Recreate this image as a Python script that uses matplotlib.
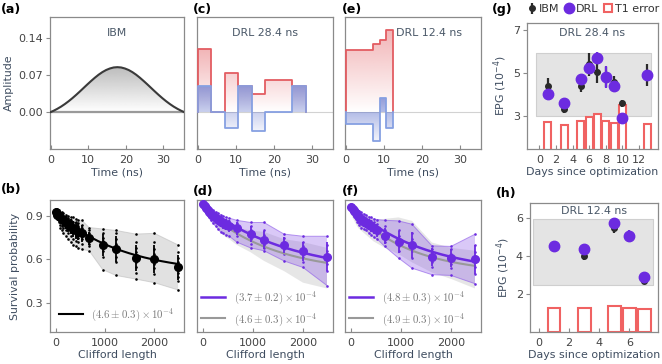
import numpy as np
import matplotlib
matplotlib.use("Agg")
import matplotlib.pyplot as plt
from matplotlib.patches import Polygon, Patch
from matplotlib.colors import to_rgb

plt.rcParams['font.family'] = ['DejaVu Sans']
plt.rcParams['mathtext.fontset'] = 'cm'

# ---------------- data ----------------
# (a) IBM pulse
pulse_t = [0, 0.75, 1.75, 2.75, 3.75, 4.75, 5.75, 6.75, 7.75, 8.75, 9.75, 10.75, 11.75,
           12.75, 13.75, 14.75, 15.75, 16.75, 17.75, 18.75, 19.75, 20.75, 21.75, 22.75,
           23.75, 24.75, 25.75, 26.75, 27.75, 28.75, 29.75, 30.75, 31.75, 32.75, 33.75,
           34.75, 35.5]
pulse_amp = [0.0, 0.0024, 0.0061, 0.0103, 0.0151, 0.0204, 0.0262, 0.0324, 0.0389, 0.0456,
             0.0523, 0.0588, 0.0650, 0.0707, 0.0756, 0.0796, 0.0825, 0.0844, 0.0850,
             0.0844, 0.0825, 0.0796, 0.0756, 0.0707, 0.0650, 0.0588, 0.0523, 0.0456,
             0.0389, 0.0324, 0.0262, 0.0204, 0.0151, 0.0103, 0.0061, 0.0024, 0.0]
pulse_q = [0.0] * len(pulse_t)

# (c) DRL 28.4 ns
c_edges = [0, 3.55, 7.1, 10.65, 14.2, 17.75, 21.3, 24.85, 28.4]
c_red = [0.119, 0.0, 0.074, 0.049, 0.034, 0.060, 0.060, 0.049]
c_blue = [0.049, 0.0, -0.030, 0.049, -0.036, 0.0, 0.0, 0.049]

# (e) DRL 12.4 ns
e_edges = [0, 1.775, 3.55, 5.325, 7.1, 8.875, 10.65, 12.4]
e_red = [0.117, 0.117, 0.117, 0.117, 0.129, 0.136, 0.155]
e_blue = [-0.023, -0.023, -0.023, -0.023, -0.054, 0.027, -0.030]

# Clifford lengths
lengths = [1, 30, 60, 90, 120, 150, 200, 250, 300, 350, 400, 450, 525,
           675, 950, 1220, 1620, 2000, 2480]

# (b) IBM seeds
b_dots = [
    [0.95, 0.94, 0.935, 0.93, 0.925, 0.92, 0.915, 0.91, 0.90],
    [0.95, 0.94, 0.93, 0.92, 0.91, 0.90, 0.89, 0.88],
    [0.94, 0.93, 0.92, 0.905, 0.895, 0.885, 0.87, 0.86],
    [0.93, 0.92, 0.91, 0.90, 0.89, 0.875, 0.86, 0.84, 0.82],
    [0.93, 0.91, 0.90, 0.89, 0.88, 0.865, 0.85, 0.83, 0.80],
    [0.92, 0.90, 0.89, 0.88, 0.87, 0.86, 0.84, 0.82, 0.78],
    [0.91, 0.89, 0.875, 0.865, 0.855, 0.845, 0.83, 0.80, 0.76],
    [0.90, 0.885, 0.87, 0.855, 0.84, 0.83, 0.81, 0.78, 0.74],
    [0.89, 0.87, 0.855, 0.84, 0.83, 0.815, 0.79, 0.76, 0.72],
    [0.89, 0.86, 0.845, 0.83, 0.815, 0.80, 0.78, 0.74, 0.70],
    [0.88, 0.855, 0.835, 0.82, 0.80, 0.785, 0.76, 0.73, 0.69],
    [0.87, 0.85, 0.83, 0.81, 0.795, 0.78, 0.75, 0.72, 0.68],
    [0.87, 0.84, 0.82, 0.80, 0.785, 0.77, 0.74, 0.71, 0.67],
    [0.82, 0.80, 0.78, 0.765, 0.75, 0.74, 0.73, 0.71, 0.69, 0.66],
    [0.81, 0.78, 0.75, 0.73, 0.71, 0.70, 0.68, 0.66, 0.62, 0.53],
    [0.80, 0.78, 0.74, 0.71, 0.69, 0.67, 0.65, 0.62, 0.58, 0.49],
    [0.775, 0.72, 0.68, 0.65, 0.62, 0.60, 0.58, 0.55, 0.51, 0.465],
    [0.78, 0.72, 0.67, 0.64, 0.61, 0.59, 0.57, 0.54, 0.50, 0.44],
    [0.70, 0.65, 0.61, 0.58, 0.55, 0.53, 0.51, 0.48, 0.45, 0.39],
]
b_mean = [0.925, 0.91, 0.90, 0.89, 0.88, 0.87, 0.855, 0.84, 0.825, 0.81, 0.80, 0.79, 0.78,
          0.745, 0.70, 0.67, 0.61, 0.60, 0.545]
b_fit = dict(A=0.425, r=7.33e-4, B=0.5)
b_label = r"$(4.6\pm0.3)\times10^{-4}$"

# (d) DRL 28.4 ns seeds
d_dots = [
    [1.0, 0.99, 0.985, 0.98, 0.975, 0.97],
    [0.99, 0.98, 0.97, 0.965, 0.96, 0.95],
    [0.98, 0.97, 0.96, 0.95, 0.94, 0.93],
    [0.97, 0.96, 0.945, 0.935, 0.925, 0.91],
    [0.96, 0.95, 0.935, 0.925, 0.91, 0.89],
    [0.95, 0.935, 0.92, 0.91, 0.895, 0.87],
    [0.94, 0.92, 0.905, 0.895, 0.88, 0.85],
    [0.93, 0.91, 0.89, 0.88, 0.865, 0.83],
    [0.92, 0.90, 0.88, 0.865, 0.85, 0.81],
    [0.91, 0.89, 0.87, 0.855, 0.84, 0.79],
    [0.90, 0.88, 0.86, 0.845, 0.83, 0.78],
    [0.89, 0.87, 0.85, 0.835, 0.82, 0.77],
    [0.885, 0.865, 0.84, 0.825, 0.81, 0.76],
    [0.87, 0.85, 0.83, 0.815, 0.80, 0.78, 0.76, 0.72],
    [0.855, 0.83, 0.80, 0.78, 0.76, 0.74, 0.71, 0.68],
    [0.855, 0.80, 0.77, 0.74, 0.72, 0.70, 0.68, 0.66],
    [0.775, 0.75, 0.72, 0.70, 0.69, 0.67, 0.64, 0.59],
    [0.76, 0.72, 0.69, 0.66, 0.64, 0.62, 0.58, 0.545],
    [0.76, 0.70, 0.66, 0.63, 0.60, 0.57, 0.52, 0.42],
]
d_mean = [0.985, 0.97, 0.955, 0.94, 0.93, 0.915, 0.90, 0.885, 0.87, 0.86, 0.85, 0.84, 0.83,
          0.815, 0.775, 0.735, 0.70, 0.655, 0.62]
d_ibm_lo = [0.945, 0.93, 0.91, 0.895, 0.88, 0.87, 0.855, 0.83, 0.81, 0.79, 0.77, 0.755, 0.74,
            0.70, 0.65, 0.59, 0.52, 0.44, 0.40]
d_ibm_hi = [0.97, 0.96, 0.95, 0.94, 0.93, 0.92, 0.91, 0.90, 0.89, 0.88, 0.87, 0.86, 0.85,
            0.82, 0.80, 0.79, 0.74, 0.72, 0.68]
d_fit = dict(A=0.48, r=5.94e-4, B=0.5)
d_fit_ibm = dict(A=0.455, r=7.2e-4, B=0.5)
d_labels = [r"$(3.7\pm0.2)\times10^{-4}$", r"$(4.6\pm0.3)\times10^{-4}$"]

# (f) DRL 12.4 ns seeds
f_dots = [
    [0.98, 0.97, 0.96, 0.955, 0.95, 0.935],
    [0.975, 0.96, 0.95, 0.94, 0.93, 0.92],
    [0.965, 0.95, 0.94, 0.93, 0.915, 0.90],
    [0.955, 0.94, 0.925, 0.915, 0.90, 0.88],
    [0.945, 0.93, 0.91, 0.90, 0.885, 0.86],
    [0.935, 0.92, 0.90, 0.885, 0.87, 0.84],
    [0.925, 0.905, 0.885, 0.87, 0.85, 0.82],
    [0.915, 0.895, 0.875, 0.86, 0.84, 0.81],
    [0.905, 0.885, 0.865, 0.85, 0.83, 0.80],
    [0.895, 0.875, 0.855, 0.835, 0.815, 0.785],
    [0.89, 0.865, 0.845, 0.825, 0.80, 0.77],
    [0.88, 0.855, 0.835, 0.815, 0.79, 0.755],
    [0.875, 0.845, 0.82, 0.80, 0.775, 0.74],
    [0.87, 0.83, 0.80, 0.78, 0.76, 0.74, 0.72, 0.69],
    [0.866, 0.80, 0.76, 0.74, 0.72, 0.69, 0.66, 0.61],
    [0.843, 0.78, 0.74, 0.71, 0.69, 0.66, 0.61, 0.54],
    [0.694, 0.67, 0.65, 0.63, 0.61, 0.58, 0.55, 0.495],
    [0.69, 0.67, 0.64, 0.62, 0.60, 0.57, 0.54, 0.49],
    [0.774, 0.70, 0.65, 0.61, 0.58, 0.55, 0.50, 0.433],
]
f_mean = [0.965, 0.95, 0.935, 0.92, 0.905, 0.89, 0.875, 0.86, 0.85, 0.84, 0.83, 0.82, 0.80,
          0.76, 0.72, 0.70, 0.62, 0.61, 0.60]
f_ibm_lo = [0.91, 0.89, 0.87, 0.85, 0.83, 0.815, 0.80, 0.785, 0.77, 0.755, 0.74, 0.725, 0.71,
            0.68, 0.637, 0.58, 0.51, 0.466, 0.40]
f_ibm_hi = [0.975, 0.965, 0.955, 0.945, 0.935, 0.925, 0.915, 0.905, 0.895, 0.89, 0.885, 0.88,
            0.875, 0.88, 0.89, 0.866, 0.717, 0.68, 0.66]
f_fit = dict(A=0.465, r=6.85e-4, B=0.5)
f_fit_ibm = dict(A=0.45, r=8.4e-4, B=0.5)
f_labels = [r"$(4.8\pm0.3)\times10^{-4}$", r"$(4.9\pm0.3)\times10^{-4}$"]

# (g) EPG vs days, DRL 28.4 ns
g_days = [1, 3, 5, 6, 7, 8, 9, 10, 13]
g_ibm = [4.38, 3.35, 4.38, 5.40, 5.05, 4.82, 4.58, 3.60, 4.90]
g_ibm_err = [0.4, 0.2, 0.25, 0.53, 0.53, 0.45, 0.3, 0.15, 0.5]
g_drl = [4.01, 3.60, 4.71, 5.23, 5.70, 4.82, 4.39, 2.94, 4.90]
g_drl_err = [0.2, 0.15, 0.2, 0.25, 0.25, 0.5, 0.15, 0.1, 0.25]
g_t1 = [2.74, 2.62, 2.80, 2.97, 3.12, 2.77, 2.71, 3.52, 2.67]
g_band_days = [-0.4, 13.5]
g_band_epg = [3.03, 5.93]

# (h) EPG vs days, DRL 12.4 ns
h_days = [1, 3, 5, 6, 7]
h_ibm = [4.50, 3.99, 5.47, 5.00, 2.70]
h_ibm_err = [0.2, 0.2, 0.25, 0.25, 0.15]
h_drl = [4.54, 4.36, 5.73, 5.06, 2.89]
h_drl_err = [0.2, 0.2, 0.3, 0.3, 0.15]
h_t1 = [1.29, 1.24, 1.38, 1.25, 1.19]
h_band_days = [-0.4, 7.6]
h_band_epg = [2.48, 5.95]

# ---------------- style ----------------
PURPLE = '#6c2be0'
RED = '#e35d62'
BLUE = '#86a0e2'
LABEL_C = '#3f4d60'
TICK_C = '#444444'
SPINE_C = '#8a8a8a'
FS_LAB = 7.9
FS_TICK = 8.0
FS_TXT = 7.9

W, H = 662, 364
fig = plt.figure(figsize=(W / 100, H / 100), dpi=100)


def ax_px(l, r, t, b):
    return fig.add_axes([l / W, 1 - b / H, (r - l) / W, (b - t) / H])


def style(ax, ylabels=True):
    for s in ax.spines.values():
        s.set_color(SPINE_C)
        s.set_linewidth(0.9)
    ax.tick_params(axis='x', direction='in', length=3, width=0.8, colors=SPINE_C,
                   labelcolor=TICK_C, labelsize=FS_TICK, pad=4)
    ax.tick_params(axis='y', direction='out', length=3 if ylabels else 0, width=0.8,
                   colors=SPINE_C, labelcolor=TICK_C, labelsize=FS_TICK, pad=2)
    if not ylabels:
        ax.set_yticklabels([])


def step_xy(edges, vals):
    xs, ys = [edges[0]], [0.0]
    for i, v in enumerate(vals):
        xs += [edges[i], edges[i + 1]]
        ys += [v, v]
    xs.append(edges[-1])
    ys.append(0.0)
    return xs, ys


def grad_fill(ax, xs, ys, color, amax, y_lo, y_hi, amin=0.0):
    poly = Polygon(list(zip(xs, ys)), closed=True, facecolor='none', edgecolor='none')
    ax.add_patch(poly)
    g = np.linspace(0, 1, 256)[:, None]
    rgba = np.zeros((256, 2, 4))
    rgba[..., :3] = to_rgb(color)
    rgba[..., 3] = amin + (amax - amin) * g
    im = ax.imshow(rgba, extent=[min(xs), max(xs), y_lo, y_hi], origin='lower',
                   aspect='auto', interpolation='bilinear', zorder=1)
    im.set_clip_path(poly)


def pulse_axes(ax):
    ax.axhline(0, color='#d2d2d2', lw=0.8, zorder=0)
    ax.set_xlim(-0.2, 35.5)
    ax.set_ylim(-0.07, 0.18)
    ax.set_xticks([0, 10, 20, 30])
    ax.set_yticks([0, 0.07, 0.14])
    ax.set_xlabel('Time (ns)', fontsize=FS_LAB, color=LABEL_C, labelpad=2)


def drl_pulse(ax, edges, red, blue):
    rx, ry = step_xy(edges, red)
    bx, by = step_xy(edges, blue)
    grad_fill(ax, rx, ry, '#e56a6e', 0.5, 0, max(red))
    grad_fill(ax, bx, by, '#5b6fcc', 0.65, min(blue), max(blue), amin=0.08)
    ax.plot(rx, ry, color=RED, lw=1.3, zorder=3)
    ax.plot(bx, by, color=BLUE, lw=1.3, zorder=3)


def fit_curve(p, x):
    return p['A'] * np.exp(-p['r'] * x) + p['B']


xfit = np.linspace(0, lengths[-1], 300)

# ---------------- (a) ----------------
ax_a = ax_px(50, 184, 17, 149)
grad_fill(ax_a, pulse_t, pulse_amp, '#7a7a7a', 0.5, 0, max(pulse_amp))
ax_a.plot(pulse_t, pulse_q, color='#9a9a9a', lw=1.6, zorder=2)
ax_a.plot(pulse_t, pulse_amp, color='#3a3a3a', lw=1.5, zorder=3)
pulse_axes(ax_a)
ax_a.set_yticklabels(['0.00', '0.07', '0.14'])
ax_a.set_ylabel('Amplitude', fontsize=FS_LAB, color=LABEL_C, labelpad=3)
ax_a.text(0.5, 0.88, 'IBM', transform=ax_a.transAxes, ha='center', va='center',
          fontsize=FS_TXT, color='#4a5868')
style(ax_a)

# ---------------- (c) ----------------
ax_c = ax_px(197, 333, 17, 149)
drl_pulse(ax_c, c_edges, c_red, c_blue)
pulse_axes(ax_c)
ax_c.text(0.5, 0.88, 'DRL 28.4 ns', transform=ax_c.transAxes, ha='center', va='center',
          fontsize=FS_TXT, color='#4a5868')
style(ax_c, ylabels=False)

# ---------------- (e) ----------------
ax_e = ax_px(345, 481, 17, 149)
drl_pulse(ax_e, e_edges, e_red, e_blue)
pulse_axes(ax_e)
ax_e.text(0.375, 0.88, 'DRL 12.4 ns', transform=ax_e.transAxes, ha='left', va='center',
          fontsize=FS_TXT, color='#4a5868')
style(ax_e, ylabels=False)


# ---------------- RB panels ----------------
def rb_panel(ax, dots, means, color, band_color, band_alpha):
    lo = [min(v) for v in dots]
    hi = [max(v) for v in dots]
    ax.fill_between(lengths, lo, hi, facecolor=band_color, alpha=band_alpha,
                    edgecolor='none', zorder=1)
    ax.plot(lengths, lo, color=band_color, lw=0.7, alpha=0.6, zorder=1)
    ax.plot(lengths, hi, color=band_color, lw=0.7, alpha=0.6, zorder=1)
    xs = [L for L, v in zip(lengths, dots) for _ in v]
    ys = [y for v in dots for y in v]
    ax.scatter(xs, ys, s=3.5, color=color, zorder=2, linewidths=0)
    errs = [np.std(v) for v in dots]
    ax.errorbar(lengths, means, yerr=errs, fmt='o', ms=5.5, color=color, ecolor=color,
                elinewidth=1.3, capsize=0, zorder=4)


def rb_axes(ax):
    ax.set_xlim(-120, 2600)
    ax.set_ylim(0.1, 1.01)
    ax.set_xticks([0, 1000, 2000])
    ax.set_yticks([0.3, 0.6, 0.9])
    ax.set_xlabel('Clifford length', fontsize=FS_LAB, color=LABEL_C, labelpad=2)


# (b)
ax_b = ax_px(50, 184, 200, 332)
rb_panel(ax_b, b_dots, b_mean, 'black', '#bdbdbd', 0.45)
lb, = ax_b.plot(xfit, fit_curve(b_fit, xfit), color='black', lw=1.5, zorder=3)
rb_axes(ax_b)
ax_b.set_ylabel('Survival probability', fontsize=FS_LAB, color=LABEL_C, labelpad=4)
ax_b.legend([lb], [b_label], loc='lower left', frameon=False, fontsize=7.8,
            labelcolor='#7a7a7a', handlelength=2.2, borderaxespad=0.4)
style(ax_b)


def rb_drl(ax, dots, means, ibm_lo, ibm_hi, fit, fit_ibm, labels):
    ax.fill_between(lengths, ibm_lo, ibm_hi, facecolor='#dcdcdc', alpha=0.7,
                    edgecolor='none', zorder=0.5)
    rb_panel(ax, dots, means, PURPLE, '#8a55e8', 0.32)
    l2, = ax.plot(xfit, fit_curve(fit_ibm, xfit), color='#999999', lw=1.5, zorder=3)
    l1, = ax.plot(xfit, fit_curve(fit, xfit), color=PURPLE, lw=1.8, zorder=3.5)
    rb_axes(ax)
    ax.legend([l1, l2], labels, loc='lower left', frameon=False, fontsize=7.8,
              labelcolor='#7a7a7a', handlelength=2.2, borderaxespad=0.0,
              labelspacing=0.45)
    style(ax, ylabels=False)


ax_d = ax_px(197, 333, 200, 332)
rb_drl(ax_d, d_dots, d_mean, d_ibm_lo, d_ibm_hi, d_fit, d_fit_ibm, d_labels)
ax_f = ax_px(345, 481, 200, 332)
rb_drl(ax_f, f_dots, f_mean, f_ibm_lo, f_ibm_hi, f_fit, f_fit_ibm, f_labels)


# ---------------- EPG panels ----------------
def epg_panel(ax, days, ibm, ibm_err, drl, drl_err, t1, band_days, band_epg):
    ax.fill_between(band_days, band_epg[0], band_epg[1], facecolor='#e4e4e4',
                    edgecolor='#cfcfcf', lw=0.8, zorder=0)
    bars = ax.bar(days, t1, width=0.85, facecolor='white', edgecolor='#f06262',
                  lw=1.5, zorder=1)
    e1 = ax.errorbar(days, ibm, yerr=ibm_err, fmt='o', ms=4, color='#2a2a2a',
                     ecolor='#2a2a2a', elinewidth=1.6, capsize=0, zorder=3)
    e2 = ax.errorbar(days, drl, yerr=drl_err, fmt='o', ms=7.5, color=PURPLE,
                     ecolor=PURPLE, elinewidth=1.6, capsize=0, zorder=4)
    ax.set_xlabel('Days since optimization', fontsize=FS_LAB, color=LABEL_C, labelpad=2)
    ax.set_ylabel(r'EPG ($\mathregular{10^{-4}}$)', fontsize=FS_LAB, color=LABEL_C,
                  labelpad=3)
    return e1, e2, bars


ax_g = ax_px(527, 658, 23, 149)
e1, e2, bars = epg_panel(ax_g, g_days, g_ibm, g_ibm_err, g_drl, g_drl_err, g_t1,
                         g_band_days, g_band_epg)
ax_g.set_xlim(-1.5, 14.3)
ax_g.set_ylim(1.5, 7.3)
ax_g.set_xticks([0, 2, 4, 6, 8, 10, 12])
ax_g.set_yticks([3, 5, 7])
ax_g.text(0.5, 0.92, 'DRL 28.4 ns', transform=ax_g.transAxes, ha='center', va='center',
          fontsize=FS_TXT, color='#4a5868')
style(ax_g)

ax_h = ax_px(530, 658, 203, 332)
epg_panel(ax_h, h_days, h_ibm, h_ibm_err, h_drl, h_drl_err, h_t1, h_band_days, h_band_epg)
ax_h.set_xlim(-0.6, 7.9)
ax_h.set_ylim(0, 6.8)
ax_h.set_xticks([0, 2, 4, 6])
ax_h.set_yticks([2, 4, 6])
ax_h.text(0.5, 0.94, 'DRL 12.4 ns', transform=ax_h.transAxes, ha='center', va='center',
          fontsize=FS_TXT, color='#4a5868')
style(ax_h)

t1_handle = Patch(facecolor='white', edgecolor='#f06262', lw=1.5)
fig.legend([e1, e2, t1_handle], ['IBM', 'DRL', 'T1 error'], loc='center right',
           bbox_to_anchor=(0.998, 1 - 9 / H), ncol=3, frameon=False, fontsize=8,
           handlelength=0.7, handletextpad=0.3, columnspacing=0.5,
           labelcolor='#333333', borderpad=0.1, borderaxespad=0.0)

# ---------------- panel letters ----------------
for lab, x, y in [('(a)', 1, 10), ('(b)', 1, 190), ('(c)', 193, 10), ('(d)', 193, 192),
                  ('(e)', 342, 10), ('(f)', 342, 192), ('(g)', 492, 9), ('(h)', 496, 193)]:
    fig.text(x / W, 1 - y / H, lab, fontsize=9, fontweight='bold', ha='left',
             va='center', color='black')

fig.savefig('out.png', dpi=100)
